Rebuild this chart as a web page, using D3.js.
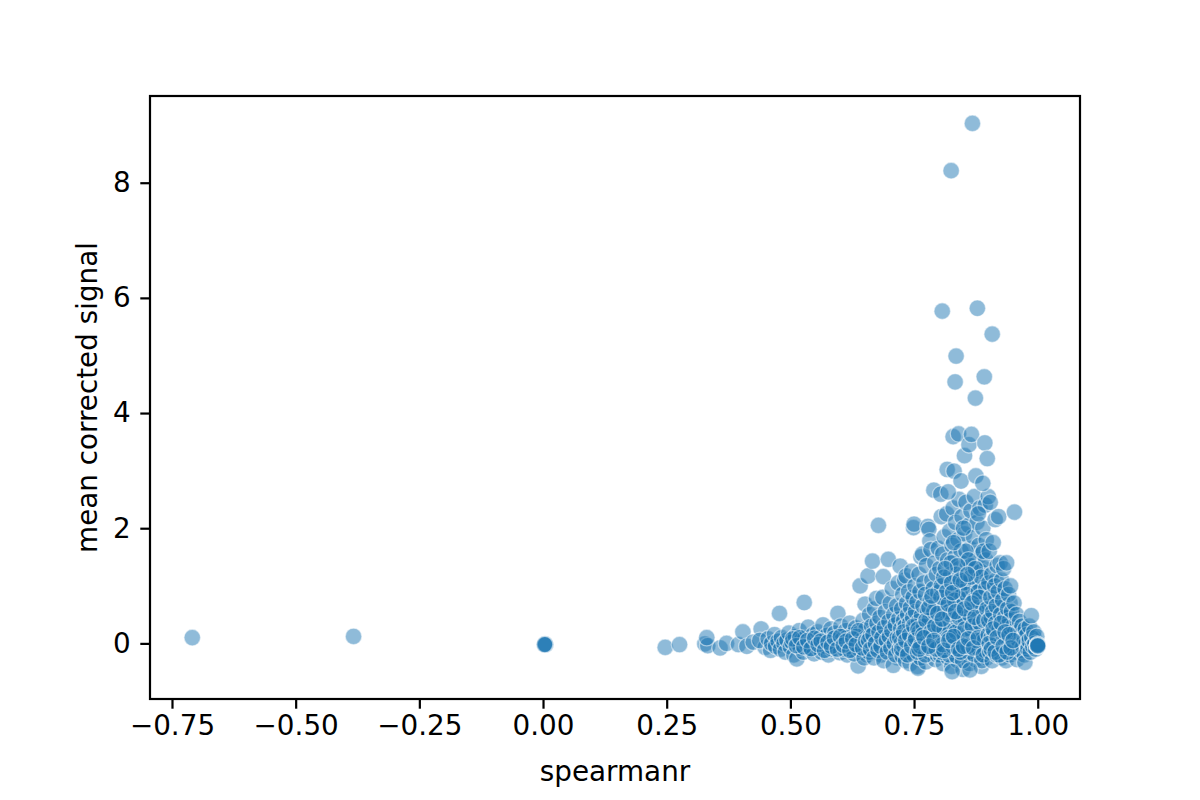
<!DOCTYPE html>
<html>
<head>
<meta charset="utf-8">
<script src="https://cdn.jsdelivr.net/npm/d3@7"></script>
<style>
  html, body { margin: 0; padding: 0; background: #ffffff; }
  svg { display: block; }
  text { font-family: "DejaVu Sans", sans-serif; fill: #000; }
</style>
</head>
<body>
<svg id="chart" width="1200" height="800"></svg>
<script>
// ---- data: [spearmanr, mean corrected signal] ----
const farPoints = [
  [-0.709,0.10],[-0.383,0.12],[0.005,-0.02],[0.004,-0.01],[0.005,-0.02],[0.003,-0.02]
];
const tailPoints = [
  [0.247,-0.07],[0.276,-0.02],[0.327,-0.01],[0.333,-0.04],[0.331,0.10],[0.358,-0.08],[0.371,0.0],
  [0.395,-0.02],[0.404,0.20],[0.412,-0.05],[0.425,0.02],[0.441,0.25],[0.449,-0.07],[0.438,0.05]
];
const bandPoints = [
  [0.455,0.08],[0.46,-0.12],[0.462,0.0],[0.468,0.15],[0.47,-0.05],[0.475,0.04],[0.478,0.52],[0.48,-0.1],
  [0.482,0.1],[0.487,0.0],[0.49,-0.15],[0.493,0.06],[0.497,0.18],[0.5,-0.06],[0.503,0.02],[0.507,-0.2],
  [0.51,0.12],[0.513,-0.27],[0.515,0.0],[0.518,0.22],[0.52,-0.08],[0.523,0.06],[0.526,-0.15],[0.528,0.71],
  [0.53,0.1],[0.533,-0.02],[0.536,0.28],[0.54,-0.11],[0.543,0.04],[0.546,0.15],[0.548,-0.18],
  [0.552,0.0],[0.555,0.2],[0.557,-0.08],[0.56,0.1],[0.563,-0.15],[0.566,0.32],[0.568,0.02],[0.571,-0.05],
  [0.574,0.14],[0.577,-0.2],[0.58,0.06],[0.582,0.25],[0.585,-0.1],[0.588,0.0],[0.59,0.18],[0.593,-0.04],
  [0.596,0.52],[0.598,0.08],[0.6,-0.16],[0.602,0.3],[0.605,0.0],[0.608,0.12],[0.61,-0.08],[0.612,0.22],
  [0.615,-0.2],[0.618,0.05],[0.62,0.35],[0.622,-0.03],[0.625,0.15],[0.627,-0.12],[0.63,0.08],[0.632,0.27],
  [0.635,-0.06],[0.637,-0.39],[0.64,0.18],[0.641,1.0],[0.643,0.02],[0.645,-0.15],[0.647,0.4],[0.648,0.1],
  [0.65,-0.05],[0.651,0.68],[0.653,0.25],[0.655,-0.2],
  [0.603,0.05],[0.609,-0.1],[0.614,0.1],[0.619,-0.05],[0.624,0.0],[0.629,-0.18],[0.634,0.12],[0.639,-0.1],
  [0.644,0.05],[0.649,-0.25],[0.654,0.1],[0.659,-0.15],[0.664,0.05],[0.668,0.2],[0.673,-0.08],[0.678,0.1],
  [0.684,-0.2],[0.691,0.0],[0.697,0.15],[0.704,-0.05],[0.711,0.1],[0.717,-0.25],
  [0.505,0.08],[0.512,-0.04],[0.519,0.1],[0.527,-0.06],[0.535,0.05],[0.542,-0.09],[0.549,0.09],[0.556,-0.02],
  [0.562,0.04],[0.569,-0.12],[0.576,0.02],[0.583,-0.05],[0.589,0.09],[0.595,-0.1],[0.601,0.12],[0.607,-0.03],
  [0.613,0.04],[0.62,-0.12],[0.626,0.08],[0.633,-0.02],[0.638,0.22],[0.646,-0.08],[0.652,0.04],[0.661,0.12],
  [0.667,-0.05],[0.675,0.06],[0.682,-0.1],[0.688,0.2],[0.695,-0.05],[0.701,0.3],[0.707,0.05],[0.714,-0.12]
];
const risePoints = [
  [0.657,1.17],[0.658,0.05],[0.66,0.5],[0.662,-0.1],[0.664,0.3],[0.666,1.43],[0.667,0.15],[0.669,-0.25],
  [0.67,0.6],[0.672,0.0],[0.674,0.78],[0.675,0.35],[0.677,-0.12],[0.678,2.05],[0.679,0.2],[0.681,0.45],
  [0.683,-0.05],[0.685,0.1],[0.687,0.8],[0.688,1.16],[0.689,-0.3],[0.69,0.28],[0.692,0.55],[0.694,0.05],
  [0.696,-0.15],[0.698,1.46],[0.699,0.38],[0.7,0.12],[0.702,0.7],[0.703,-0.08],[0.705,0.22],[0.706,0.95],
  [0.708,-0.38],[0.709,0.5],[0.71,0.0],[0.712,0.32],[0.713,-0.2],[0.715,0.65],[0.716,0.1],[0.718,1.05],
  [0.719,0.42],[0.72,-0.1],
  [0.722,1.34],[0.723,0.25],[0.724,0.0],[0.725,0.6],[0.726,-0.22],[0.727,0.85],[0.728,0.15],[0.729,0.4],
  [0.73,-0.05],[0.731,1.1],[0.732,0.3],[0.733,-0.3],[0.734,1.17],[0.735,0.7],[0.736,0.05],[0.737,0.5],
  [0.738,-0.15],[0.739,0.9],[0.74,0.2],[0.741,0.35],[0.742,-0.35],[0.743,0.62],[0.744,0.1],[0.745,1.25],
  [0.746,0.0],[0.747,0.45],[0.748,0.8],[0.749,2.01],[0.75,2.07],[0.75,-0.2],[0.751,0.28],[0.752,1.0],
  [0.753,0.55],[0.754,-0.08],[0.755,0.15],[0.756,0.72],[0.757,-0.4],[0.758,-0.43],[0.759,0.38],[0.76,1.2],
  [0.761,0.05],[0.762,0.9],[0.763,-0.25],[0.764,1.5],[0.765,0.48],[0.766,0.2],[0.767,1.55],[0.768,0.65],
  [0.769,-0.1],[0.77,1.05],[0.771,0.3],[0.772,0.0],[0.773,0.85],[0.774,-0.32],[0.775,1.35],[0.776,0.12],
  [0.777,0.58],[0.778,2.03],[0.779,0.4],[0.78,1.98],[0.781,-0.15],[0.782,1.78],[0.783,0.75],[0.784,1.63],
  [0.785,0.25],[0.786,1.1],[0.787,-0.05],[0.788,0.5],[0.789,0.95],[0.79,2.66],[0.791,0.18],[0.792,1.4],
  [0.793,-0.28],[0.794,0.68],[0.795,1.2],[0.796,0.35],[0.797,0.0],[0.798,0.88],[0.799,1.65],
  [0.721,0.1],[0.725,-0.1],[0.729,0.2],[0.733,0.05],[0.737,-0.2],[0.741,0.15],[0.745,-0.05],[0.749,0.3],
  [0.753,0.1],[0.757,-0.15],[0.761,0.2],[0.765,0.0],[0.769,0.3],[0.773,-0.2],[0.777,0.1],[0.781,0.4],
  [0.785,-0.1],[0.789,0.15],[0.793,0.05],[0.797,-0.2]
];
const peakPoints = [
  [0.801,0.2],[0.802,1.3],[0.803,-0.2],[0.804,0.6],[0.805,2.2],[0.806,0.95],[0.807,0.05],[0.808,1.55],
  [0.809,-0.35],[0.81,0.4],[0.811,1.85],[0.812,0.75],[0.813,0.1],[0.814,1.1],[0.815,-0.1],[0.816,2.25],
  [0.817,0.5],[0.818,1.45],[0.819,-0.25],[0.82,0.85],[0.821,0.3],[0.822,1.95],[0.823,0.0],[0.824,1.2],
  [0.825,0.62],[0.826,-0.4],[0.827,1.7],[0.828,0.15],[0.829,2.35],[0.83,0.95],[0.831,-0.15],[0.832,0.4],
  [0.833,1.5],[0.834,2.1],[0.835,0.7],[0.836,0.05],[0.837,1.0],[0.838,-0.3],[0.839,1.8],[0.84,0.25],
  [0.841,2.5],[0.842,1.3],[0.843,0.55],[0.844,-0.08],[0.845,1.6],[0.846,0.9],[0.847,2.2],[0.848,0.12],
  [0.849,-0.45],[0.85,1.15],[0.851,0.45],[0.852,1.9],[0.853,0.75],[0.854,0.0],[0.855,2.45],[0.856,1.4],
  [0.857,-0.2],[0.858,0.35],[0.859,1.05],[0.86,2.05],[0.861,0.6],[0.862,-0.35],[0.863,1.65],[0.864,0.2],
  [0.865,2.3],[0.866,0.95],[0.867,-0.1],[0.868,1.25],[0.869,0.5],[0.87,1.85],[0.871,0.08],[0.872,2.55],
  [0.873,0.8],[0.874,-0.28],[0.875,1.45],[0.876,0.3],[0.877,2.1],[0.878,1.1],[0.879,0.0],[0.88,0.65],
  [0.881,1.7],[0.882,-0.15],[0.883,2.35],[0.884,0.42],[0.885,1.0],[0.886,-0.4],[0.887,1.55],[0.888,0.15],
  [0.889,2.0],[0.89,0.85],[0.891,-0.05],[0.892,1.3],[0.893,0.55],[0.894,2.4],[0.895,0.25],[0.896,1.8],
  [0.897,-0.25],[0.898,1.05],[0.899,0.7],
  [0.8,-0.05],[0.803,0.35],[0.806,-0.15],[0.809,0.15],[0.812,-0.05],[0.815,0.45],[0.818,0.1],[0.821,-0.2],
  [0.824,0.25],[0.827,0.05],[0.83,-0.1],[0.833,0.3],[0.836,-0.22],[0.839,0.5],[0.842,0.02],[0.845,0.2],
  [0.848,-0.3],[0.851,0.1],[0.854,0.4],[0.857,0.0],[0.86,-0.15],[0.863,0.25],[0.866,-0.05],[0.869,0.15],
  [0.872,-0.2],[0.875,0.35],[0.878,0.05],[0.881,-0.1],[0.884,0.2],[0.887,-0.3],[0.89,0.1],[0.893,-0.12],
  [0.896,0.3],[0.899,0.0],
  [0.805,1.0],[0.815,0.7],[0.825,1.4],[0.835,1.2],[0.845,0.9],[0.855,1.6],[0.865,1.35],[0.875,0.95],
  [0.885,1.25],[0.895,1.45],[0.81,1.15],[0.82,0.55],[0.83,1.75],[0.84,0.8],[0.85,2.0],[0.86,1.45],
  [0.87,0.6],[0.88,2.25],[0.89,1.6],[0.9,2.55]
];
const corePoints = [
  [0.752,0.05],[0.758,0.25],[0.763,-0.05],[0.768,0.15],[0.774,0.4],[0.779,-0.08],[0.784,0.2],[0.79,0.55],
  [0.795,-0.1],[0.8,0.3],[0.804,0.8],[0.808,-0.02],[0.811,0.25],[0.816,0.9],[0.82,0.1],[0.823,0.5],
  [0.826,1.05],[0.829,-0.05],[0.832,0.75],[0.835,0.2],[0.838,1.35],[0.841,0.45],[0.844,-0.15],[0.847,0.65],
  [0.85,1.05],[0.853,0.25],[0.856,0.85],[0.859,-0.05],[0.862,0.5],[0.865,1.15],[0.868,0.3],[0.871,0.75],
  [0.874,1.3],[0.877,0.05],[0.88,0.9],[0.883,0.35],[0.886,1.15],[0.889,0.6],[0.892,0.05],[0.895,0.95],
  [0.898,0.4],[0.901,1.05],[0.904,0.25],[0.907,0.7],[0.91,-0.05],[0.913,0.5],[0.916,1.1],[0.919,0.3],
  [0.922,0.7],[0.925,0.15],[0.928,0.45],[0.931,0.85],[0.934,0.05],[0.937,0.55],[0.94,0.25],[0.944,0.7],
  [0.948,0.35],[0.952,-0.05],[0.956,0.3],[0.96,0.05],
  [0.78,0.62],[0.786,0.82],[0.792,0.3],[0.798,0.52],[0.807,0.42],[0.813,1.3],[0.819,0.68],[0.828,0.88],
  [0.834,0.55],[0.843,1.1],[0.852,0.6],[0.858,1.2],[0.867,0.7],[0.873,0.45],[0.882,0.8],[0.891,0.4],
  [0.897,0.6],[0.906,0.45],[0.915,0.85],[0.924,0.65],[0.933,0.3],[0.943,0.5],
  [0.76,-0.1],[0.77,0.1],[0.78,-0.05],[0.79,0.05],[0.81,-0.12],[0.82,0.05],[0.83,0.12],[0.84,-0.1],
  [0.85,-0.05],[0.86,0.08],[0.87,-0.08],[0.88,0.1],[0.89,-0.2],[0.9,0.15],[0.91,0.05],[0.92,-0.08],
  [0.93,0.1],[0.94,0.05],[0.955,-0.08],[0.965,0.05],[0.975,-0.1],[0.985,0.05],[0.993,0.1],[0.997,-0.02]
];
const edgePoints = [
  [0.901,0.4],[0.902,1.6],[0.903,-0.15],[0.904,2.45],[0.905,0.8],[0.906,0.1],[0.907,1.2],[0.908,-0.3],
  [0.909,0.55],[0.91,1.75],[0.911,0.2],[0.912,-0.05],[0.913,1.0],[0.914,2.15],[0.915,0.35],[0.916,0.65],
  [0.917,-0.2],[0.918,1.35],[0.919,0.05],[0.92,0.9],[0.921,2.2],[0.922,0.25],[0.923,-0.1],[0.924,1.4],
  [0.925,0.5],[0.926,0.0],[0.927,1.1],[0.928,-0.25],[0.929,0.75],[0.93,0.15],[0.931,1.3],[0.932,-0.05],
  [0.933,0.45],[0.934,0.95],[0.935,0.1],[0.936,-0.3],[0.937,1.4],[0.938,0.3],[0.939,0.6],[0.94,-0.1],
  [0.941,0.85],[0.942,0.0],[0.943,0.4],[0.944,-0.2],[0.945,1.0],[0.946,0.2],[0.947,0.55],[0.948,-0.05],
  [0.95,0.3],[0.952,0.7],[0.954,-0.15],[0.955,0.1],[0.957,0.5],[0.958,-0.28],[0.96,0.2],[0.962,0.0],
  [0.963,0.38],[0.965,-0.12],[0.967,0.15],[0.968,0.3],[0.97,-0.05],[0.972,0.1],[0.973,-0.2],[0.974,-0.33],
  [0.975,0.25],[0.977,0.0],[0.978,0.15],[0.98,-0.1],[0.982,0.05],[0.983,0.3],[0.985,-0.15],[0.987,0.48],
  [0.988,0.1],[0.99,-0.05],[0.992,0.2],[0.994,0.0],[0.996,-0.1],[0.998,0.12],
  [0.902,0.0],[0.906,-0.1],[0.91,0.25],[0.914,-0.15],[0.918,0.1],[0.922,-0.2],[0.926,0.35],[0.93,-0.05],
  [0.934,0.2],[0.938,-0.15],[0.942,0.15],[0.946,-0.08],[0.95,0.05],
  [1.0,-0.04],[1.0,-0.03],[1.0,-0.04],[1.0,-0.02],[1.0,-0.05],[1.0,-0.04]
];
const outlierPoints = [
  [0.804,2.59],[0.807,5.77],[0.817,3.02],[0.819,2.63],[0.825,8.21],[0.829,3.59],[0.831,2.99],[0.833,4.54],
  [0.835,4.99],[0.84,3.64],[0.845,2.82],[0.852,3.26],[0.861,3.45],[0.866,3.63],[0.868,9.03],[0.874,4.26],
  [0.875,2.91],[0.878,5.82],[0.889,2.78],[0.892,4.63],[0.893,3.48],[0.898,3.21],[0.908,5.37],[0.953,2.28],
  [0.827,-0.49],[0.863,-0.46]
];
const xTicks = [-0.75, -0.5, -0.25, 0.0, 0.25, 0.5, 0.75, 1.0];
const yTicks = [0, 2, 4, 6, 8];
const xLabel = "spearmanr";
const yLabel = "mean corrected signal";

// ---- chart ----
const data = [].concat(farPoints, tailPoints, bandPoints, risePoints, peakPoints, corePoints, edgePoints, outlierPoints);
const plot = { left: 150, right: 1080, top: 96, bottom: 699 };
const svg = d3.select("#chart");

function padded(ext) {
  const r = ext[1] - ext[0];
  return [ext[0] - 0.05 * r, ext[1] + 0.05 * r];
}
const x = d3.scaleLinear().domain(padded(d3.extent(data, d => d[0]))).range([plot.left, plot.right]);
const y = d3.scaleLinear().domain(padded(d3.extent(data, d => d[1]))).range([plot.bottom, plot.top]);

const fontSize = 27.8;
const tickLen = 9.7;

svg.append("g")
  .selectAll("circle")
  .data(data)
  .join("circle")
  .attr("cx", d => x(d[0]))
  .attr("cy", d => y(d[1]))
  .attr("r", 8.3)
  .attr("fill", "#1f77b4")
  .attr("fill-opacity", 0.5)
  .attr("stroke", "#ffffff")
  .attr("stroke-opacity", 0.5)
  .attr("stroke-width", 1.33);

const xAxis = svg.append("g")
  .attr("transform", `translate(0,${plot.bottom})`)
  .call(d3.axisBottom(x).tickValues(xTicks).tickFormat(d3.format(".2f")).tickSizeOuter(0).tickSize(tickLen).tickPadding(7));
const yAxis = svg.append("g")
  .attr("transform", `translate(${plot.left},0)`)
  .call(d3.axisLeft(y).tickValues(yTicks).tickFormat(d3.format("d")).tickSizeOuter(0).tickSize(tickLen).tickPadding(9.7));

[xAxis, yAxis].forEach(g => {
  g.select(".domain").remove();
  g.selectAll(".tick line").attr("stroke", "#000").attr("stroke-width", 2.2);
  g.selectAll(".tick text")
    .attr("font-family", '"DejaVu Sans", sans-serif')
    .attr("font-size", fontSize)
    .attr("fill", "#000");
});

svg.append("rect")
  .attr("x", plot.left).attr("y", plot.top)
  .attr("width", plot.right - plot.left).attr("height", plot.bottom - plot.top)
  .attr("fill", "none").attr("stroke", "#000").attr("stroke-width", 2.2);

svg.append("text")
  .attr("x", (plot.left + plot.right) / 2)
  .attr("y", 781)
  .attr("text-anchor", "middle")
  .attr("font-size", fontSize)
  .text(xLabel);

svg.append("text")
  .attr("transform", `translate(97,${(plot.top + plot.bottom) / 2}) rotate(-90)`)
  .attr("text-anchor", "middle")
  .attr("font-size", fontSize)
  .text(yLabel);
</script>
</body>
</html>
